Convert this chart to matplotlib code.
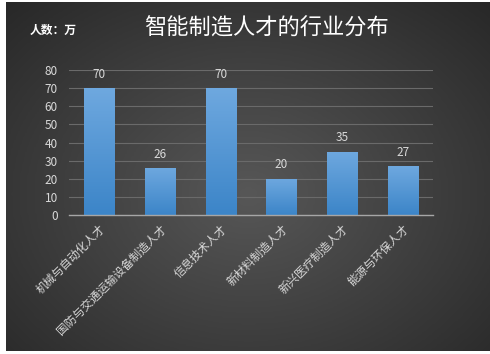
import numpy as np
import matplotlib.pyplot as plt
import matplotlib.transforms as mtransforms
from matplotlib.colors import LinearSegmentedColormap

plt.rcParams['font.family'] = ['Noto Sans CJK SC', 'DejaVu Sans']

categories = ['机械与自动化人才', '国防与交通运输设备制造人才', '信息技术人才',
              '新材料制造人才', '新兴医疗制造人才', '能源与环保人才']
values = [70, 26, 70, 20, 35, 27]
y_ticks = [0, 10, 20, 30, 40, 50, 60, 70, 80]

fig = plt.figure(figsize=(4.9, 3.54), dpi=100)
fig.patch.set_facecolor('white')

# dark radial background panel
bg = fig.add_axes([6 / 490, 3 / 354, 484 / 490, 349 / 354])
yy, xx = np.mgrid[0:1:200j, 0:1:280j]
r = np.sqrt(((xx - 0.5) / 0.75) ** 2 + ((yy - 0.55) / 0.8) ** 2)
bg_cmap = LinearSegmentedColormap.from_list('bg', ['#575757', '#262626'])
bg.imshow(np.clip(r, 0, 1), cmap=bg_cmap, aspect='auto', extent=[0, 1, 0, 1], vmin=0, vmax=1)
bg.set_axis_off()

ax = fig.add_axes([69 / 490, 1 - 215 / 354, 364 / 490, 145 / 354])
ax.set_facecolor('none')
x = np.arange(len(categories))
bars = ax.bar(x, values, width=0.5, color='#4a90d6', zorder=2)

grad = np.linspace(0, 1, 100).reshape(-1, 1)
bar_cmap = LinearSegmentedColormap.from_list('bar', ['#3c85c8', '#6ea8df'])
for b in bars:
    x0, w, h = b.get_x(), b.get_width(), b.get_height()
    im = ax.imshow(grad, cmap=bar_cmap, aspect='auto', origin='lower',
                   extent=[x0, x0 + w, 0, h], zorder=3)
    im.set_clip_path(b)
    ax.text(x0 + w / 2, h + 4, str(int(h)), ha='center', va='bottom',
            color='#d9d9d9', fontsize=8.5, zorder=4)

ax.set_xlim(-0.5, len(categories) - 0.5)
ax.set_ylim(0, 80)
ax.set_yticks(y_ticks)
ax.set_xticks(x)
ax.set_xticklabels(categories, rotation=45, ha='right', rotation_mode='anchor',
                   color='#d9d9d9', fontsize=8.3)
offset = mtransforms.ScaledTranslation(6 / 100, 3 / 100, fig.dpi_scale_trans)
for lbl in ax.get_xticklabels():
    lbl.set_transform(lbl.get_transform() + offset)
ax.tick_params(axis='y', colors='#d9d9d9', labelsize=8.5, length=0, pad=8)
ax.tick_params(axis='x', length=0, pad=5)
ax.grid(axis='y', color='#6a6a6a', linewidth=0.8, zorder=0)
ax.set_axisbelow(True)
for s in ['top', 'right', 'left']:
    ax.spines[s].set_visible(False)
ax.spines['bottom'].set_color('#a6a6a6')
ax.spines['bottom'].set_linewidth(1)
ax.spines['bottom'].set_zorder(5)

fig.text(266 / 490, 1 - 28 / 354, '智能制造人才的行业分布', ha='center', va='center',
         color='white', fontsize=16)
fig.text(30 / 490, 1 - 30 / 354, '人数：万', ha='left', va='center',
         color='white', fontsize=8.5, fontweight='bold')

fig.savefig('out.png', dpi=100, facecolor=fig.get_facecolor())
